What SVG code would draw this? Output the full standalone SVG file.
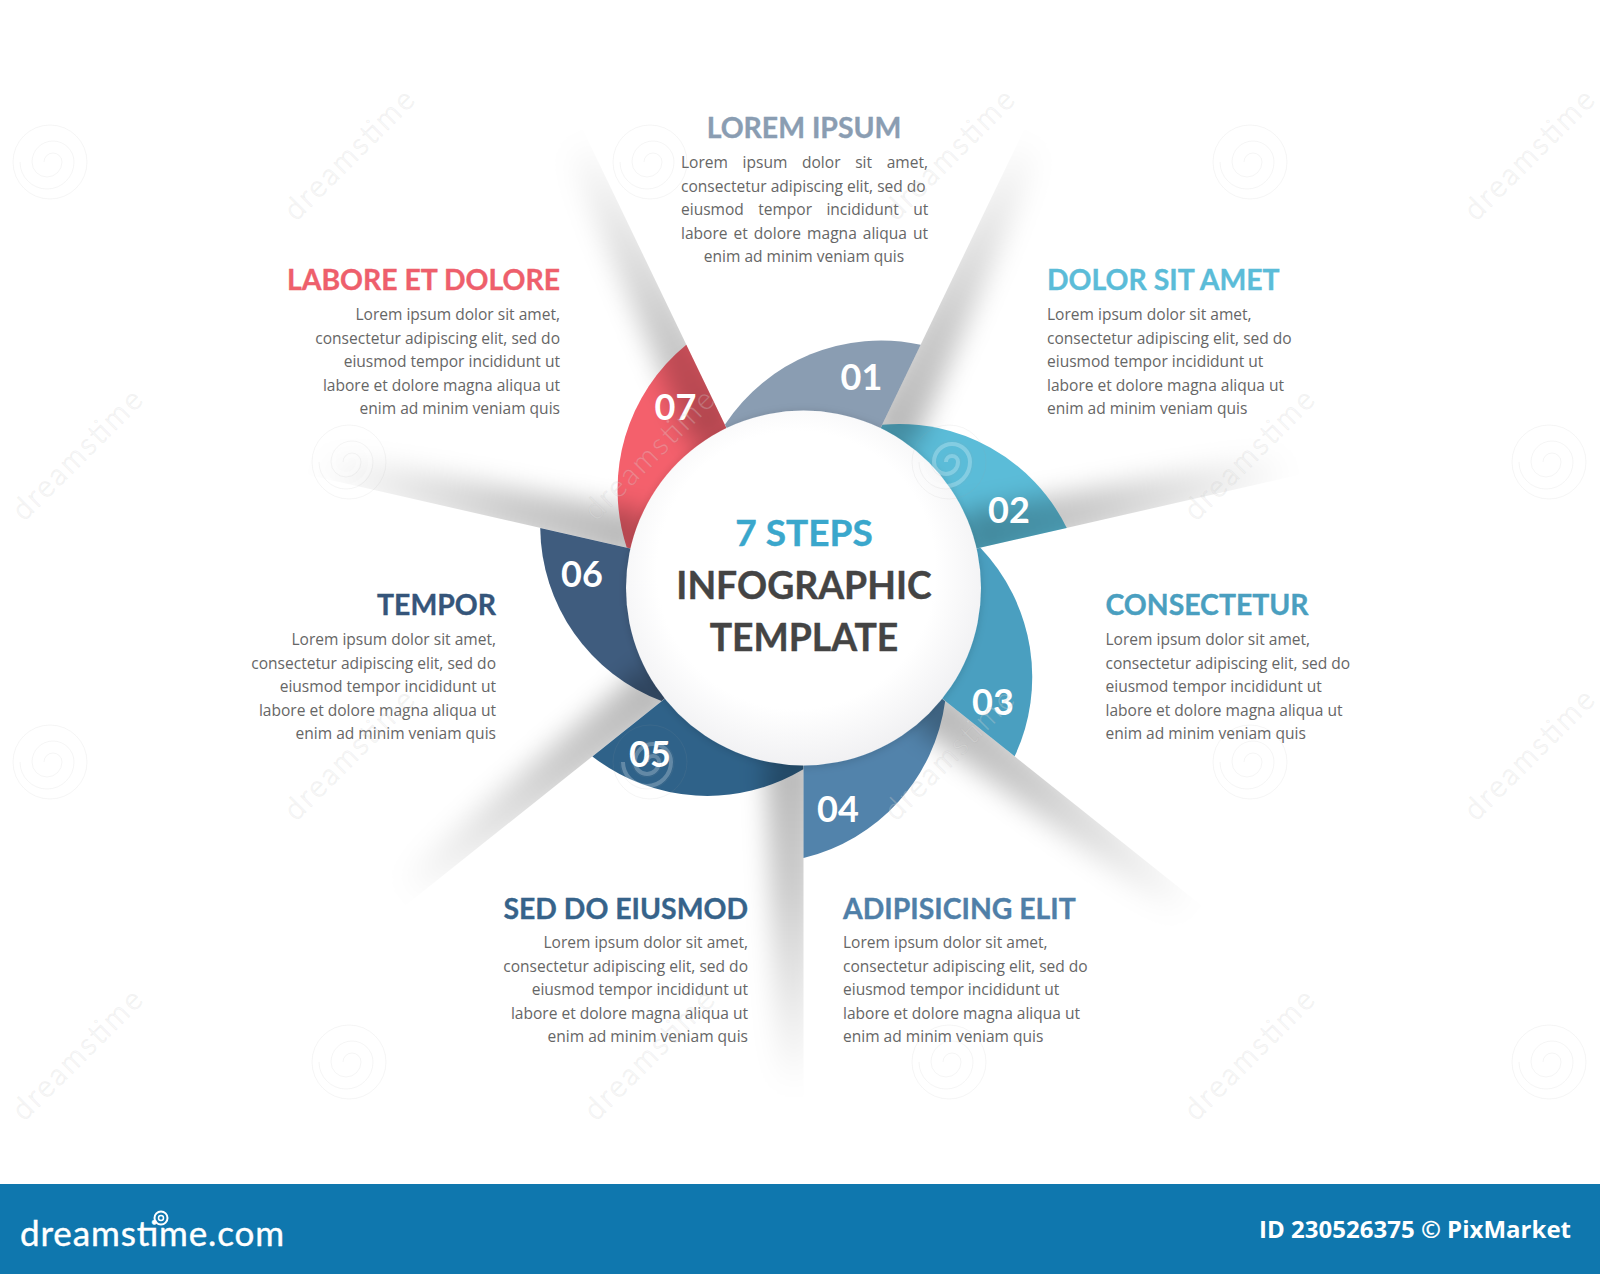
<svg xmlns="http://www.w3.org/2000/svg" width="1600" height="1274" viewBox="0 0 1600 1274">
<style>
.t{font-family:"Lato","Liberation Sans",sans-serif;font-weight:700;font-size:28.4px;fill:currentColor;stroke:currentColor;stroke-width:.35}
.b{font-family:"Open Sans","Liberation Sans",sans-serif;font-size:15.55px;fill:#666}
.e{text-anchor:end}
.n{font-family:"Lato","Liberation Sans",sans-serif;font-weight:700;font-size:36px;fill:#fff;text-anchor:middle}
.c{font-family:"Lato","Liberation Sans",sans-serif;font-weight:700;font-size:37.3px;fill:#444;text-anchor:middle;stroke:#444;stroke-width:.4}
.wm{font-family:"Lato","Liberation Sans",sans-serif;font-weight:300;font-size:30px;fill:#fff;fill-opacity:.22;stroke:#999;stroke-opacity:.13;stroke-width:1}
.sp{fill:none;stroke:#fff;stroke-opacity:.25;stroke-width:4}
.so{fill:none;stroke:#999;stroke-opacity:.1;stroke-width:1}
</style>
<defs>
<path id="w" d="M725 424.5A187 187 0 0 1 920.65 344.7L803.5 588Z"/>
<linearGradient id="sg" gradientUnits="userSpaceOnUse" x1="0" y1="420" x2="0" y2="85">
<stop offset="0" stop-color="#000" stop-opacity=".28"/><stop offset=".4" stop-color="#000" stop-opacity=".2"/><stop offset="1" stop-color="#000" stop-opacity="0"/>
</linearGradient>
<filter id="bl" x="-100%" y="-20%" width="300%" height="140%"><feGaussianBlur stdDeviation="12"/></filter>
<filter id="cs" x="-10%" y="-10%" width="120%" height="120%"><feDropShadow dx="0" dy="1" stdDeviation="4" flood-color="#000" flood-opacity=".16"/></filter>
<clipPath id="cr"><rect x="803.5" y="40" width="300" height="560"/></clipPath>
<clipPath id="cl"><rect x="503.5" y="40" width="300" height="560"/></clipPath>
<g id="shR" clip-path="url(#cr)"><polygon points="790,420 842,420 830,85 796,85" fill="url(#sg)" filter="url(#bl)"/></g>
<g id="shL" clip-path="url(#cl)"><polygon points="817,420 765,420 777,85 811,85" fill="url(#sg)" filter="url(#bl)"/></g>
<radialGradient id="cg" cx=".48" cy=".45" r=".56"><stop offset=".7" stop-color="#fff"/><stop offset="1" stop-color="#f0f0f2"/></radialGradient>
<g id="spiral">
<circle r="37" class="so"/>
<path class="sp" d="M-3 0A6 6 0 0 1 9 0A12 12 0 0 1 -15 0A18 18 0 0 1 21 0A24 24 0 0 1 -27 0"/>
<path class="so" d="M-6 0A9 9 0 0 1 12 0A15 15 0 0 1 -18 0A21 21 0 0 1 24 0A27 27 0 0 1 -30 0"/>
</g>
</defs>
<rect width="1600" height="1274" fill="#fff"/>

<g id="step-02-sector"><use href="#w" fill="#5bbcd8" transform="rotate(51.43 803.5 588)"/></g>
<g id="step-07-sector"><use href="#w" fill="#f4606c" transform="rotate(-51.43 803.5 588)"/></g>
<g id="step-06-sector"><use href="#w" fill="#3f5c7e" transform="rotate(-102.86 803.5 588)"/></g>
<g id="step-05-sector"><use href="#w" fill="#2f6289" transform="rotate(-154.29 803.5 588)"/></g>
<g id="step-04-sector"><use href="#w" fill="#5283ab" transform="rotate(154.29 803.5 588)"/></g>
<g id="step-03-sector"><use href="#w" fill="#4a9fc0" transform="rotate(102.86 803.5 588)"/></g>
<g id="step-01-sector"><use href="#w" fill="#8a9db2"/></g>

<g id="connectors">
<use href="#shR" transform="rotate(25.71 803.5 588)"/>
<use href="#shL" transform="rotate(77.14 803.5 588)"/>
<use href="#shR" transform="rotate(128.57 803.5 588)"/>
<use href="#shR" transform="rotate(180 803.5 588)"/>
<use href="#shR" transform="rotate(231.43 803.5 588)"/>
<use href="#shR" transform="rotate(282.86 803.5 588)"/>
<use href="#shL" transform="rotate(334.29 803.5 588)"/>
</g>

<g id="center">
<circle cx="803.5" cy="588" r="177.5" fill="url(#cg)" filter="url(#cs)"/>
<text class="c" x="804" y="546" style="font-size:37px;fill:#3aa7cc;stroke:#3aa7cc">7 STEPS</text>
<text class="c" x="804" y="599">INFOGRAPHIC</text>
<text class="c" x="804" y="651">TEMPLATE</text>
</g>

<g id="step-01">
<text class="n" x="861.5" y="390">01</text>
<text class="t" x="804" y="138" text-anchor="middle" color="#8a9db2">LOREM IPSUM</text>
<text class="b" x="681" y="168" style="word-spacing:10.6px">Lorem ipsum dolor sit amet,</text>
<text class="b" x="681" y="191.6">consectetur adipiscing elit, sed do</text>
<text class="b" x="681" y="215.2" style="word-spacing:10.3px">eiusmod tempor incididunt ut</text>
<text class="b" x="681" y="238.8" style="word-spacing:2px">labore et dolore magna aliqua ut</text>
<text class="b" x="804" y="262.4" text-anchor="middle">enim ad minim veniam quis</text>
</g>
<g id="step-02">
<text class="n" x="1009" y="523">02</text>
<text class="t" x="1047" y="290" color="#5bbcd8">DOLOR SIT AMET</text>
<text class="b" x="1047" y="320">Lorem ipsum dolor sit amet,</text>
<text class="b" x="1047" y="343.6">consectetur adipiscing elit, sed do</text>
<text class="b" x="1047" y="367.2">eiusmod tempor incididunt ut</text>
<text class="b" x="1047" y="390.8">labore et dolore magna aliqua ut</text>
<text class="b" x="1047" y="414.4">enim ad minim veniam quis</text>
</g>
<g id="step-03">
<text class="n" x="993" y="715">03</text>
<text class="t" x="1105.5" y="615" color="#4a9fc0">CONSECTETUR</text>
<text class="b" x="1105.5" y="645">Lorem ipsum dolor sit amet,</text>
<text class="b" x="1105.5" y="668.6">consectetur adipiscing elit, sed do</text>
<text class="b" x="1105.5" y="692.2">eiusmod tempor incididunt ut</text>
<text class="b" x="1105.5" y="715.8">labore et dolore magna aliqua ut</text>
<text class="b" x="1105.5" y="739.4">enim ad minim veniam quis</text>
</g>
<g id="step-04">
<text class="n" x="838" y="822">04</text>
<text class="t" x="843" y="918.5" color="#4f7fa8">ADIPISICING ELIT</text>
<text class="b" x="843" y="948">Lorem ipsum dolor sit amet,</text>
<text class="b" x="843" y="971.6">consectetur adipiscing elit, sed do</text>
<text class="b" x="843" y="995.2">eiusmod tempor incididunt ut</text>
<text class="b" x="843" y="1018.8">labore et dolore magna aliqua ut</text>
<text class="b" x="843" y="1042.4">enim ad minim veniam quis</text>
</g>
<g id="step-05">
<text class="n" x="650" y="767">05</text>
<text class="t e" x="748" y="918.5" color="#36638a">SED DO EIUSMOD</text>
<text class="b e" x="748" y="948">Lorem ipsum dolor sit amet,</text>
<text class="b e" x="748" y="971.6">consectetur adipiscing elit, sed do</text>
<text class="b e" x="748" y="995.2">eiusmod tempor incididunt ut</text>
<text class="b e" x="748" y="1018.8">labore et dolore magna aliqua ut</text>
<text class="b e" x="748" y="1042.4">enim ad minim veniam quis</text>
</g>
<g id="step-06">
<text class="n" x="582" y="587">06</text>
<text class="t e" x="496" y="615" color="#35557a">TEMPOR</text>
<text class="b e" x="496" y="645">Lorem ipsum dolor sit amet,</text>
<text class="b e" x="496" y="668.6">consectetur adipiscing elit, sed do</text>
<text class="b e" x="496" y="692.2">eiusmod tempor incididunt ut</text>
<text class="b e" x="496" y="715.8">labore et dolore magna aliqua ut</text>
<text class="b e" x="496" y="739.4">enim ad minim veniam quis</text>
</g>
<g id="step-07">
<text class="n" x="675.5" y="420">07</text>
<text class="t e" x="560" y="290" color="#ee5f6c">LABORE ET DOLORE</text>
<text class="b e" x="560" y="320">Lorem ipsum dolor sit amet,</text>
<text class="b e" x="560" y="343.6">consectetur adipiscing elit, sed do</text>
<text class="b e" x="560" y="367.2">eiusmod tempor incididunt ut</text>
<text class="b e" x="560" y="390.8">labore et dolore magna aliqua ut</text>
<text class="b e" x="560" y="414.4">enim ad minim veniam quis</text>
</g>

<g id="watermark">
<use href="#spiral" x="50" y="162"/><use href="#spiral" x="650" y="162"/><use href="#spiral" x="1250" y="162"/>
<use href="#spiral" x="349" y="462"/><use href="#spiral" x="949" y="462"/><use href="#spiral" x="1549" y="462"/>
<use href="#spiral" x="50" y="762"/><use href="#spiral" x="650" y="762"/><use href="#spiral" x="1250" y="762"/>
<use href="#spiral" x="349" y="1062"/><use href="#spiral" x="949" y="1062"/><use href="#spiral" x="1549" y="1062"/>
<text class="wm" transform="translate(296 222) rotate(-45)" textLength="170">dreamstime</text>
<text class="wm" transform="translate(896 222) rotate(-45)" textLength="170">dreamstime</text>
<text class="wm" transform="translate(1476 222) rotate(-45)" textLength="170">dreamstime</text>
<text class="wm" transform="translate(24 522) rotate(-45)" textLength="170">dreamstime</text>
<text class="wm" transform="translate(596 522) rotate(-45)" textLength="170">dreamstime</text>
<text class="wm" transform="translate(1196 522) rotate(-45)" textLength="170">dreamstime</text>
<text class="wm" transform="translate(296 822) rotate(-45)" textLength="170">dreamstime</text>
<text class="wm" transform="translate(896 822) rotate(-45)" textLength="170">dreamstime</text>
<text class="wm" transform="translate(1476 822) rotate(-45)" textLength="170">dreamstime</text>
<text class="wm" transform="translate(24 1122) rotate(-45)" textLength="170">dreamstime</text>
<text class="wm" transform="translate(596 1122) rotate(-45)" textLength="170">dreamstime</text>
<text class="wm" transform="translate(1196 1122) rotate(-45)" textLength="170">dreamstime</text>
</g>

<g id="footer">
<rect y="1184" width="1600" height="90" fill="#0f77ae"/>
<text x="20" y="1246" font-family="Lato, sans-serif" font-weight="400" font-size="35" fill="#fff" stroke="#fff" stroke-width=".4" textLength="264">dreamstime.com</text>
<circle cx="161" cy="1218" r="6.5" fill="none" stroke="#fff" stroke-width="2"/><circle cx="161" cy="1218" r="2.5" fill="none" stroke="#fff" stroke-width="1.5"/>
<text x="1259" y="1238" font-family="'Open Sans', sans-serif" font-weight="700" font-size="24" fill="#fff" textLength="312">ID 230526375 © PixMarket</text>
</g>
</svg>
